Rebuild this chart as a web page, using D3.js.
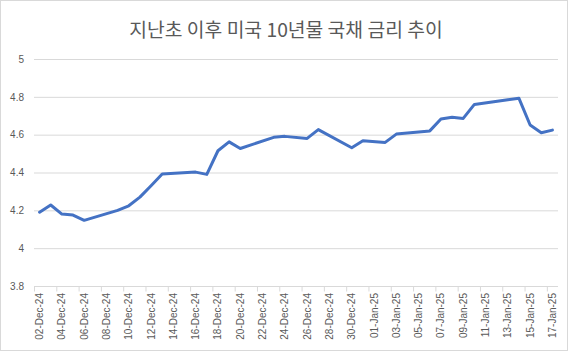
<!DOCTYPE html>
<html>
<head>
<meta charset="utf-8">
<script src="https://cdn.jsdelivr.net/npm/d3@7"></script>
<style>
  body { margin: 0; background: #fff; }
  svg text { font-family: "Liberation Sans", Arial, sans-serif; fill: #595959; }
</style>
</head>
<body>
<div id="chart"></div>
<script>
// data
const titleText = "지난초 이후 미국 10년물 국채 금리 추이";
const dates = ["2024-12-02","2024-12-03","2024-12-04","2024-12-05","2024-12-06",
  "2024-12-09","2024-12-10","2024-12-11","2024-12-12","2024-12-13",
  "2024-12-16","2024-12-17","2024-12-18","2024-12-19","2024-12-20",
  "2024-12-23","2024-12-24","2024-12-26","2024-12-27",
  "2024-12-30","2024-12-31","2025-01-02","2025-01-03",
  "2025-01-06","2025-01-07","2025-01-08","2025-01-09","2025-01-10",
  "2025-01-13","2025-01-14","2025-01-15","2025-01-16","2025-01-17"];
const yields = [4.19, 4.228, 4.18, 4.175, 4.147,
  4.20, 4.224, 4.27, 4.33, 4.392,
  4.402, 4.39, 4.515, 4.562, 4.527,
  4.586, 4.591, 4.58, 4.627,
  4.531, 4.568, 4.559, 4.603,
  4.62, 4.683, 4.692, 4.686, 4.76,
  4.785, 4.792, 4.651, 4.61, 4.624];
const yTicks = [3.8, 4, 4.2, 4.4, 4.6, 4.8, 5];
const axisStart = "2024-12-02", axisEnd = "2025-01-18";

const W = 573, H = 353;

const parse = d3.utcParse("%Y-%m-%d");
const fmt = d3.utcFormat("%d-%b-%y");
const series = dates.map((d, i) => ({date: parse(d), value: yields[i]}));

const svg = d3.select("#chart").append("svg")
    .attr("width", W)
    .attr("height", H);

// outer chart border
svg.append("rect")
    .attr("x", 0.5).attr("y", 0.5)
    .attr("width", 567).attr("height", 350)
    .attr("fill", "#fff")
    .attr("stroke", "#d9d9d9");

let x = d3.scaleUtc()
    .domain([parse(axisStart), parse(axisEnd)])
    .range([34, 558]);
let y = d3.scaleLinear()
    .domain([3.8, 5])
    .range([286, 59]);

// title
svg.append("text")
    .attr("x", 286).attr("y", 37)
    .attr("text-anchor", "middle")
    .style("font-family", "'Noto Sans CJK KR', sans-serif")
    .style("font-size", "19.3px")
    .text(titleText);

// gridlines
svg.append("g").selectAll("line")
    .data(yTicks.slice(1))
    .join("line")
    .attr("x1", 34).attr("x2", 558)
    .attr("y1", d => y(d) + 0.5).attr("y2", d => y(d) + 0.5)
    .attr("stroke", "#d9d9d9");

// y axis labels
let yAxis = d3.axisLeft(y).tickValues(yTicks).tickSize(0).tickPadding(10)
    .tickFormat(d3.format(""));
let yg = svg.append("g").attr("transform", "translate(34,0)").call(yAxis);
yg.select(".domain").remove();
yg.selectAll("text").style("font-size", "10px").attr("fill", "#595959");

// x axis, ticks every 2 days counted from the first date
let tickDates = d3.utcDay.range(parse(axisStart), parse(axisEnd), 2);
let xAxis = d3.axisBottom(x).tickValues(tickDates).tickSize(5).tickFormat("");
let xg = svg.append("g").attr("transform", "translate(0,286.5)").call(xAxis);
xg.select(".domain").attr("stroke", "#d9d9d9").attr("d", "M34,0H558");
xg.selectAll(".tick line").attr("stroke", "#d9d9d9");

// rotated date labels, centred on the day
svg.append("g").selectAll("text")
    .data(tickDates)
    .join("text")
    .attr("transform", d => "translate(" + (x(d3.utcHour.offset(d, 12)) + 3.5) + ",293) rotate(-90)")
    .attr("text-anchor", "end")
    .style("font-size", "10px")
    .text(d => fmt(d));

// the line
let line = d3.line()
    .x(d => x(d3.utcHour.offset(d.date, 12)))
    .y(d => y(d.value));
svg.append("path")
    .datum(series)
    .attr("d", line)
    .attr("fill", "none")
    .attr("stroke", "#4472c4")
    .attr("stroke-width", 3)
    .attr("stroke-linejoin", "round")
    .attr("stroke-linecap", "round");
</script>
</body>
</html>
